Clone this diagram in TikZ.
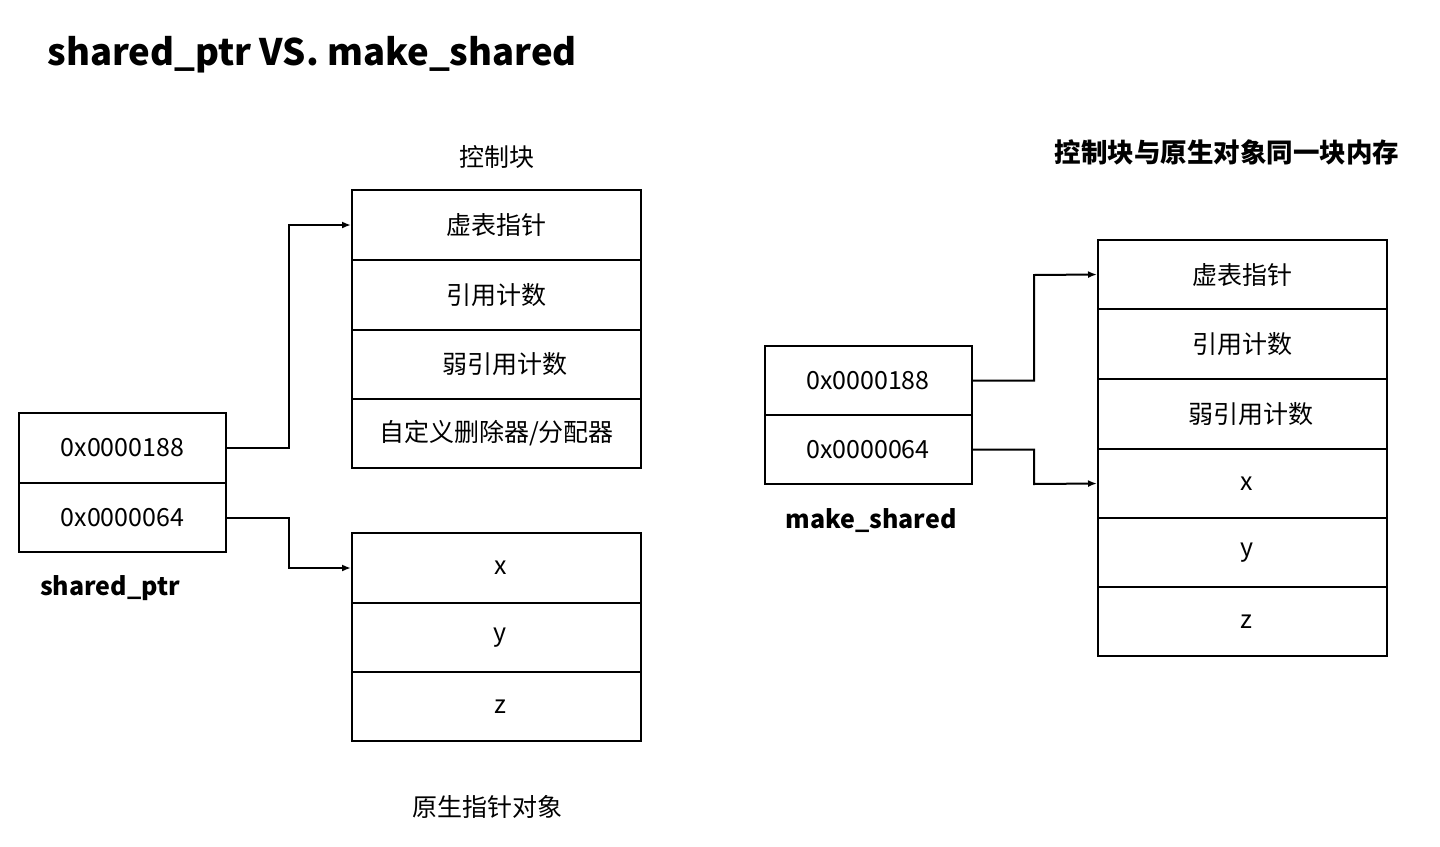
\documentclass[tikz,border=0pt]{standalone}
\usepackage{fontspec}
\setmainfont{Noto Sans CJK SC}
\usetikzlibrary{arrows.meta}
\begin{document}
\begin{tikzpicture}[x=1pt,y=-1pt,
  cell/.style={draw,line width=2pt,minimum width=#1,minimum height=69.5pt,inner sep=0pt,font=\fontsize{25}{28}\selectfont},
  cellL/.style={cell=207pt},
  cellB/.style={cell=289pt},
  lbl/.style={font=\fontsize{25}{28}\selectfont},
  blbl/.style={font=\fontsize{25}{28}\selectfont\bfseries},
  conn/.style={line width=2pt,-{Latex[length=9pt,width=7pt]}}]
\useasboundingbox (0,0) rectangle (1440,846);
\node[anchor=west,font=\fontsize{36.5}{42}\selectfont\bfseries] (title) at (44,55) {shared\_ptr VS. make\_shared};
% left pointer
\node[cellL] (p1) at (122.5,448) {0x0000188};
\node[cellL] (p2) at (122.5,517.5) {0x0000064};
\node[blbl] (sp) at (110,588) {shared\_ptr};
% control block
\node[lbl] (cbt) at (497,157) {控制块};
\node[cellB] (c1) at (496.5,225) {虚表指针};
\node[cellB] (c2) at (496.5,295) {引用计数};
\node[cellB] (c3) at (496.5,364.5) {\hspace*{16pt}弱引用计数};
\node[cellB] (c4) at (496.5,433.5) {自定义删除器/分配器};
% object
\node[cellB] (o1) at (496.5,568) {\hspace*{8pt}x};
\node[cellB] (o2) at (496.5,637.5) {\hspace*{8pt}y};
\node[cellB] (o3) at (496.5,706.5) {\hspace*{8pt}z};
\node[lbl] (ot) at (487,807) {原生指针对象};
\draw[conn] (p1.east) -| (289,225) -- (c1.west);
\draw[conn] (p2.east) -| (289,568) -- (o1.west);
% right
\node[cellL] (q1) at (868,380.5) {0x0000188};
\node[cellL] (q2) at (868,449.5) {0x0000064};
\node[blbl] (ms) at (871,521) {make\_shared};
\node[font=\fontsize{26.5}{30}\selectfont\bfseries] (rt) at (1227,152) {控制块与原生对象同一块内存};
\node[cellB] (r1) at (1242.5,274.5) {虚表指针};
\node[cellB] (r2) at (1242.5,344) {引用计数};
\node[cellB] (r3) at (1242.5,414) {\hspace*{16pt}弱引用计数};
\node[cellB] (r4) at (1242.5,483.5) {\hspace*{8pt}x};
\node[cellB] (r5) at (1242.5,552.5) {\hspace*{8pt}y};
\node[cellB] (r6) at (1242.5,621.5) {\hspace*{8pt}z};
\draw[conn] (q1.east) -| (1034,275) -- (r1.west);
\draw[conn] (q2.east) -| (1034,484) -- (r4.west);
\end{tikzpicture}
\end{document}
